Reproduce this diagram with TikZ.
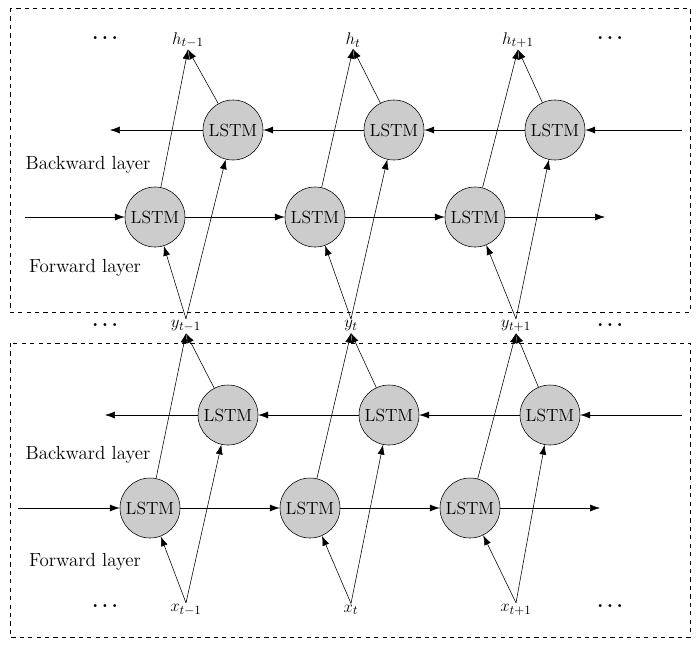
\documentclass[tikz,border=0pt]{standalone}
\usepackage{tikz}
\usetikzlibrary{arrows.meta}
\tikzset{
  lstm/.style={circle, draw, fill=gray!40, minimum size=60*0.025cm, inner sep=0pt, font=\fontsize{12.5}{14}\selectfont},
  lab/.style={inner sep=1pt, font=\fontsize{13}{15}\selectfont},
  layer/.style={font=\fontsize{13.5}{15}\selectfont},
  arr/.style={-{Latex[length=7pt,width=5pt]}, thin},
  panel/.style={draw, dashed, thin}
}
\begin{document}
\begin{tikzpicture}[x=0.025cm, y=-0.025cm]
    \useasboundingbox (0,0) rectangle (700,647);
    % panels
    \draw[panel] (10,8) rectangle (690,312);
    \draw[panel] (10,343) rectangle (690,637);
    % dots
    \foreach \yy in {38,325,606} {
        \node[font=\Large\bfseries] at (105,\yy) {.\,.\,.};
        \node[font=\Large\bfseries] at (610,\yy) {.\,.\,.};
    }
    % layer labels
    \node[layer] at (88,165) {Backward layer};
    \node[layer] at (85,268) {Forward layer};
    \node[layer] at (88,455) {Backward layer};
    \node[layer] at (85,562) {Forward layer};
    % cells and labels
    \foreach \i/\n/\s in {0/a/{t-1},1/b/t,2/c/{t+1}} {
        \node[lstm] (tf\n) at (155+160*\i,217) {LSTM};
        \node[lstm] (tb\n) at (233+161*\i,130) {LSTM};
        \node[lstm] (bf\n) at (150+160*\i,508) {LSTM};
        \node[lstm] (bb\n) at (228+161*\i,415) {LSTM};
        \node[lab] (h\n) at (188+165*\i,40) {$h_{\s}$};
        \node[lab] (y\n) at (186+165*\i,326) {$y_{\s}$};
        \node[lab] (x\n) at (186+165*\i,610) {$x_{\s}$};
    }
    % free ends
    \coordinate (tin) at (25,217);
    \coordinate (tout) at (605,217);
    \coordinate (tbin) at (682,130);
    \coordinate (tbout) at (110,130);
    \coordinate (bin) at (18,508);
    \coordinate (bout) at (600,508);
    \coordinate (bbin) at (682,415);
    \coordinate (bbout) at (105,415);
    % forward chains
    \draw[arr] (tin) -- (tfa);
    \draw[arr] (tfa) -- (tfb);
    \draw[arr] (tfb) -- (tfc);
    \draw[arr] (tfc) -- (tout);
    \draw[arr] (bin) -- (bfa);
    \draw[arr] (bfa) -- (bfb);
    \draw[arr] (bfb) -- (bfc);
    \draw[arr] (bfc) -- (bout);
    % backward chains
    \draw[arr] (tbin) -- (tbc);
    \draw[arr] (tbc) -- (tbb);
    \draw[arr] (tbb) -- (tba);
    \draw[arr] (tba) -- (tbout);
    \draw[arr] (bbin) -- (bbc);
    \draw[arr] (bbc) -- (bbb);
    \draw[arr] (bbb) -- (bba);
    \draw[arr] (bba) -- (bbout);
    % inputs and outputs
    \foreach \n in {a,b,c} {
        \draw[arr] (y\n.north) -- (tf\n);
        \draw[arr] (y\n.north) -- (tb\n);
        \draw[arr] (tf\n) -- (h\n.south);
        \draw[arr] (tb\n) -- (h\n.south);
        \draw[arr] (x\n.north) -- (bf\n);
        \draw[arr] (x\n.north) -- (bb\n);
        \draw[arr] (bf\n) -- (y\n.south);
        \draw[arr] (bb\n) -- (y\n.south);
    }
\end{tikzpicture}
\end{document}
